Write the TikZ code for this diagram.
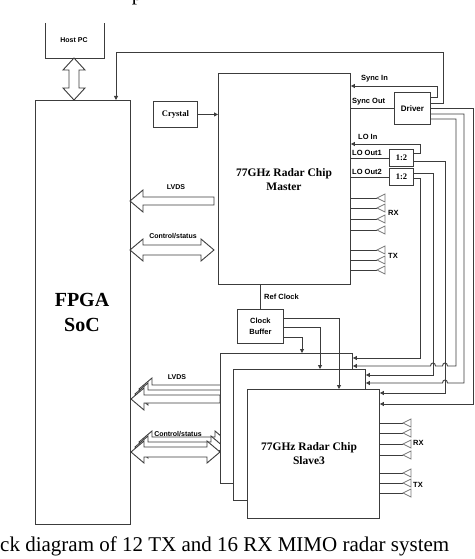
\documentclass[tikz,border=0pt]{standalone}
\usepackage{fontspec}
\setmainfont{Liberation Serif}
\newfontfamily\lsans{Liberation Sans}
\usetikzlibrary{arrows.meta}
\definecolor{lc}{RGB}{60,60,60}
\definecolor{ac}{RGB}{120,120,120}
% hollow block arrows
\newcommand\myLArrow[3]{% tip x, tail x, centre y
 \filldraw[bigarr] (#1,#3) -- ({#1+13},{#3-11}) -- ({#1+13},{#3-4}) -- (#2,{#3-4}) -- (#2,{#3+4}) -- ({#1+13},{#3+4}) -- ({#1+13},{#3+11}) -- cycle;}
\newcommand\myDArrow[3]{% left tip, right tip, centre y
 \filldraw[bigarr] (#1,#3) -- ({#1+13},{#3-11}) -- ({#1+13},{#3-5}) -- ({#2-13},{#3-5}) -- ({#2-13},{#3-11}) -- (#2,#3) -- ({#2-13},{#3+11}) -- ({#2-13},{#3+5}) -- ({#1+13},{#3+5}) -- ({#1+13},{#3+11}) -- cycle;}
\newcommand\myVArrow[3]{% centre x, top tip, bottom tip
 \filldraw[bigarr] (#1,#2) -- ({#1+11},{#2+12}) -- ({#1+5},{#2+12}) -- ({#1+5},{#3-12}) -- ({#1+11},{#3-12}) -- (#1,#3) -- ({#1-11},{#3-12}) -- ({#1-5},{#3-12}) -- ({#1-5},{#2+12}) -- ({#1-11},{#2+12}) -- cycle;}
\tikzset{
 blk/.style={draw=lc, fill=white, line width=0.9pt, inner sep=0pt, anchor=north west},
 conn/.style={draw=lc, line width=0.9pt},
 arr/.style={conn, -{Triangle[length=4pt,width=4pt]}},
 bigarr/.style={draw=lc, fill=white, line width=0.9pt, line join=miter},
 ant/.style={draw=ac, fill=white, line width=0.8pt},
 sl/.style={font=\lsans\bfseries\fontsize{7.5}{9}\selectfont, inner sep=0pt, text=black},
 sr/.style={font=\bfseries\fontsize{11.5}{14}\selectfont, align=center, inner sep=0pt},
 srs/.style={font=\bfseries\fontsize{8.5}{10}\selectfont, inner sep=0pt},
}
\begin{document}
\begin{tikzpicture}[x=1pt,y=-1pt]
\useasboundingbox (0,0) rectangle (474,559);
% fragments of surrounding text
\node[anchor=base, font=\fontsize{21}{24}\selectfont, inner sep=0pt] (ptop) at (137,1) {p};
\node[anchor=base west, font=\fontsize{21}{24}\selectfont, inner sep=0pt] (cap) at (0,551) {ck diagram of 12 TX and 16 RX MIMO radar system};

% main blocks
\node[blk, minimum width=95pt, minimum height=424pt] (fpga) at (35,100) {};
\node[font=\bfseries\fontsize{20}{25}\selectfont, align=center, inner sep=0pt] (fpgat) at (82,312) {FPGA\\SoC};
\node[inner sep=0pt, anchor=north west, minimum width=59pt, minimum height=35pt] (host) at (45,23) {};
\draw[conn] (host.north west) -- (host.south west) -- (host.south east) -- (host.north east);
\node[sl, font=\lsans\bfseries\fontsize{7}{8}\selectfont] (hostt) at (74,40) {Host PC};
\myVArrow{74}{58}{100}

\node[blk, minimum width=132pt, minimum height=211pt] (master) at (218,73) {};
\node[sr] (mastert) at (284,180) {77GHz Radar Chip\\Master};
\node[blk, minimum width=44pt, minimum height=26pt] (crystal) at (153,101) {};
\node[srs] (crystalt) at (crystal.center) {Crystal};
\node[blk, minimum width=36pt, minimum height=32pt] (driver) at (394,92) {};
\node[sl, font=\lsans\bfseries\fontsize{8}{9}\selectfont] (drivert) at (driver.center) {Driver};
\node[blk, minimum width=24pt, minimum height=17pt] (split1) at (389,149) {};
\node[srs] (split1t) at (split1.center) {1:2};
\node[blk, minimum width=24pt, minimum height=17pt] (split2) at (389,168) {};
\node[srs] (split2t) at (split2.center) {1:2};
\node[blk, minimum width=46pt, minimum height=34pt] (clkbuf) at (237,309) {};
\node[sl, align=center, font=\lsans\bfseries\fontsize{7.5}{11}\selectfont] (clkbuft) at (clkbuf.center) {Clock\\Buffer};

% master connections
\draw[arr] (crystal.east) -- (crystal.east -| master.west);
\draw[arr] (driver.east |- 0,97) -- (437,97) -- (437,86) -- (master.east |- 0,86);
\draw[conn] (master.east |- 0,108) -- (driver.west |- 0,108);
\draw[arr] (driver.east |- 0,103) -- (443,103) -- (443,52) -- (116,52) -- (fpga.north -| 116,0);
\draw[arr] (split1.east |- 0,153) -- (420,153) -- (420,144) -- (master.east |- 0,144);
\draw[conn] (master.east |- 0,158) -- (split1.west |- 0,158);
\draw[conn] (master.east |- 0,177) -- (split2.west |- 0,177);
\draw[conn] (clkbuf.north |- master.south) -- (clkbuf.north);

\node[sl, anchor=west] (syncin) at (361,79) {Sync In};
\node[sl, anchor=west] (syncout) at (352,102) {Sync Out};
\node[sl, anchor=west] (loin) at (358,137) {LO In};
\node[sl, anchor=west] (loout1) at (352,153) {LO Out1};
\node[sl, anchor=west] (loout2) at (352,172) {LO Out2};
\node[sl, anchor=west] (refclk) at (264,297) {Ref Clock};

% master antennas
\foreach \yy in {198,208,219,230,250,260,270}{
  \draw[conn] (master.east |- 0,\yy) -- (377,\yy);
  \draw[ant] (377,\yy) -- (385,{\yy-4}) -- (385,{\yy+4}) -- cycle;
}
\node[sl, anchor=west] (rx1) at (388,213) {RX};
\node[sl, anchor=west] (tx1) at (388,256) {TX};

% master <-> FPGA
\myLArrow{130}{214}{201}
\myDArrow{130}{214}{250}
\node[sl, font=\lsans\bfseries\fontsize{7}{8}\selectfont] (lvds1) at (176,187) {LVDS};
\node[sl, font=\lsans\bfseries\fontsize{7}{8}\selectfont] (ctrl1) at (173,236) {Control/status};

% slave <-> FPGA (stacked)
\myLArrow{139}{228}{389}
\myLArrow{135}{224}{394}
\myLArrow{131}{220}{399}
\myDArrow{139}{228}{442}
\myDArrow{135}{224}{447}
\myDArrow{131}{220}{452}

% slaves
\node[blk, minimum width=132pt, minimum height=130pt] (slave1) at (220,353) {};
\node[blk, minimum width=132pt, minimum height=131pt] (slave2) at (233,369) {};
\node[blk, minimum width=132pt, minimum height=129pt] (slave3) at (247,389) {};
\node[sr] (slave3t) at (309,454) {77GHz Radar Chip\\Slave3};
\node[sl, font=\lsans\bfseries\fontsize{7}{8}\selectfont] (lvds2) at (177,377) {LVDS};
\node[sl, font=\lsans\bfseries\fontsize{7}{8}\selectfont] (ctrl2) at (178,434) {Control/status};

% clock buffer to slaves
\draw[arr] (clkbuf.east |- 0,318) -- (339,318) -- (slave3.north -| 339,0);
\draw[arr] (clkbuf.east |- 0,327) -- (320,327) -- (slave2.north -| 320,0);
\draw[arr] (clkbuf.east |- 0,337) -- (302,337) -- (slave1.north -| 302,0);

% sync / LO distribution
\draw[arr] (split2.east |- 0,178) -- (420,178) -- (420,358) -- (slave1.east |- 0,358);
\draw[arr] (split2.east |- 0,173) -- (433,173) -- (433,375) -- (slave2.east |- 0,375);
\draw[arr] (split1.east |- 0,161) -- (445,161) -- (445,393) -- (slave3.east |- 0,393);
\draw[arr] (driver.east |- 0,119) -- (456,119) -- (456,366) -- (447.5,366)
   .. controls (447.5,362) and (442.5,362) .. (442.5,366) -- (435.5,366)
   .. controls (435.5,362) and (430.5,362) .. (430.5,366) -- (slave1.east |- 0,366);
\draw[arr] (driver.east |- 0,114) -- (464,114) -- (464,383) -- (447.5,383)
   .. controls (447.5,379) and (442.5,379) .. (442.5,383) -- (slave2.east |- 0,383);
\draw[arr] (driver.east |- 0,108) -- (473,108) -- (473,404) -- (slave3.east |- 0,404);

% slave3 antennas
\foreach \yy in {423,433,444,455,473,483,493}{
  \draw[conn] (slave3.east |- 0,\yy) -- (403,\yy);
  \draw[ant] (403,\yy) -- (411,{\yy-4}) -- (411,{\yy+4}) -- cycle;
}
\node[sl, anchor=west] (rx2) at (413,443) {RX};
\node[sl, anchor=west] (tx2) at (413,485) {TX};
\end{tikzpicture}
\end{document}
